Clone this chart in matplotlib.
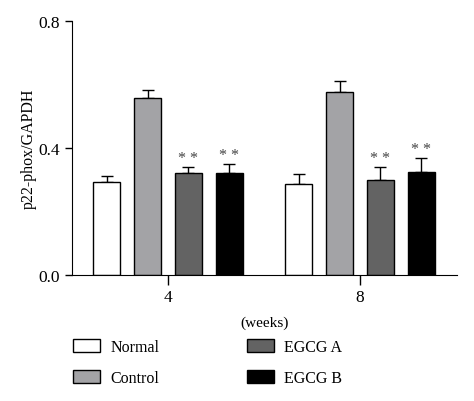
import numpy as np
import matplotlib
matplotlib.use("Agg")
import matplotlib.pyplot as plt
from matplotlib.patches import Patch

plt.rcParams["font.family"] = ["Liberation Serif", "DejaVu Serif"]

weeks = ["4", "8"]
groups = ["Normal", "Control", "EGCG A", "EGCG B"]
colors = ["#ffffff", "#a3a3a6", "#636363", "#000000"]
means = {
    "Normal":  [0.292, 0.288],
    "Control": [0.557, 0.577],
    "EGCG A":  [0.320, 0.299],
    "EGCG B":  [0.320, 0.324],
}
errs = {
    "Normal":  [0.020, 0.029],
    "Control": [0.025, 0.035],
    "EGCG A":  [0.019, 0.041],
    "EGCG B":  [0.031, 0.046],
}
stars = {"Normal": False, "Control": False, "EGCG A": True, "EGCG B": True}

fig = plt.figure(figsize=(4.74, 4.02), dpi=100)
ax = fig.add_axes([72 / 474, 1 - 276 / 402, (457 - 72) / 474, (276 - 22) / 402])

x = np.arange(len(weeks))
step = 0.213
width = 0.142
for i, g in enumerate(groups):
    pos = x + (i - 1.5) * step
    ax.bar(pos, means[g], width=width, color=colors[i], edgecolor="black",
           linewidth=1.0, zorder=2)
    ax.errorbar(pos, means[g], yerr=[np.zeros(len(weeks)), errs[g]], fmt="none",
                ecolor="black", elinewidth=1.0, capsize=4, capthick=1.0, zorder=1)
    if stars[g]:
        for p, m, e in zip(pos, means[g], errs[g]):
            ax.text(p, m + e + 0.003, "* *", ha="center", va="bottom",
                    fontsize=11.5, color="#444444")

ax.set_xlim(-0.5, 1.505)
ax.set_ylim(0, 0.8)
ax.set_yticks([0.0, 0.4, 0.8])
ax.set_yticklabels(["0.0", "0.4", "0.8"])
ax.set_xticks(x)
ax.set_xticklabels(weeks)
ax.spines["top"].set_visible(False)
ax.spines["right"].set_visible(False)
ax.tick_params(axis="both", labelsize=12.5, width=1, direction="out")
ax.tick_params(axis="y", length=5)
ax.tick_params(axis="x", length=7, pad=3)
ax.set_ylabel("p22-phox/GAPDH", fontsize=11.5, labelpad=1)
ax.set_xlabel("(weeks)", fontsize=11, labelpad=8)

handles = [Patch(facecolor=c, edgecolor="black", linewidth=1.0) for c in colors]
fig.legend(handles, groups,
           loc="upper left", bbox_to_anchor=(0.124, 0.19), ncol=2,
           frameon=False, fontsize=11.5, handlelength=1.7, handleheight=0.82,
           columnspacing=5.5, labelspacing=0.95, handletextpad=0.62)

fig.savefig("out.png", dpi=100)
